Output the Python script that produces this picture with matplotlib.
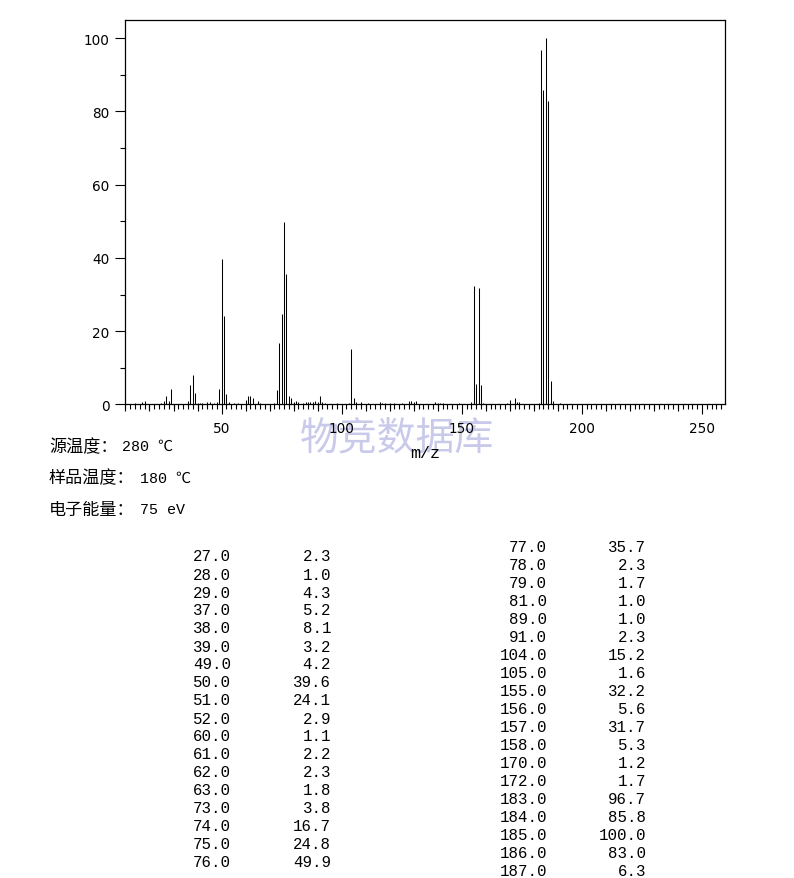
import matplotlib
matplotlib.use("Agg")
import matplotlib.pyplot as plt
from matplotlib.ticker import FixedLocator

# ---- data ----
mz_major = [27, 28, 29, 37, 38, 39, 49, 50, 51, 52, 60, 61, 62, 63, 73, 74, 75, 76,
            77, 78, 79, 81, 89, 91, 104, 105, 155, 156, 157, 158, 170, 172, 183, 184,
            185, 186, 187]
int_major = [2.3, 1.0, 4.3, 5.2, 8.1, 3.2, 4.2, 39.6, 24.1, 2.9, 1.1, 2.2, 2.3, 1.8,
             3.8, 16.7, 24.8, 49.9, 35.7, 2.3, 1.7, 1.0, 1.0, 2.3, 15.2, 1.6, 32.2,
             5.6, 31.7, 5.3, 1.2, 1.7, 96.7, 85.8, 100.0, 83.0, 6.3]
# small unlisted peaks (estimated from the plot)
mz_minor = [14, 17, 18, 25, 26, 36, 40, 41, 42, 44, 45, 47, 48, 53, 55, 57, 65, 66, 72,
            80, 82, 84, 85, 86, 87, 88, 90, 92, 93, 98, 103, 106, 108, 111, 116, 117,
            118, 120, 122, 125, 128, 129, 130, 131, 139, 140, 141, 142, 149, 154, 159,
            169, 173, 174, 182, 188, 191]
int_minor = [0.3, 0.5, 0.8, 0.4, 0.9, 0.9, 0.3, 0.4, 0.4, 0.5, 0.5, 0.3, 0.6, 0.5, 0.3,
             0.3, 0.8, 0.3, 0.3, 0.6, 0.5, 0.4, 0.7, 0.6, 0.5, 0.6, 0.5, 0.6, 0.4, 0.3,
             0.3, 0.6, 0.5, 0.3, 0.5, 0.4, 0.4, 0.4, 0.3, 0.4, 0.8, 0.9, 0.6, 0.9, 0.6,
             0.4, 0.4, 0.4, 0.3, 0.5, 0.4, 0.4, 0.6, 0.5, 0.4, 1.0, 0.3]
x_labels = [50, 100, 150, 200, 250]
y_labels = [0, 20, 40, 60, 80, 100]
info_names = ["源温度：", "样品温度：", "电子能量："]
info_values = ["280 ℃", "180 ℃", "75 eV"]
watermark = "物竞数据库"

W, H = 794, 879
fig = plt.figure(figsize=(W / 100, H / 100), dpi=100)
fig.patch.set_facecolor("white")


def fx(x):
    return x / W


def fy(y):
    return 1 - y / H


PT = 0.72  # points per pixel at 100 dpi

ax_l, ax_r, ax_t, ax_b = 124.5, 725, 21, 405.3
ax = fig.add_axes([fx(ax_l), fy(ax_b), (ax_r - ax_l) / W, (ax_b - ax_t) / H])
ax.set_facecolor("white")

ax.vlines(mz_minor, 0, int_minor, color="black", linewidth=0.75)
ax.vlines(mz_major, 0, int_major, color="black", linewidth=0.75)

ax.set_xlim(9.6, 259.6)
ax.set_ylim(0, 105)

for s in ax.spines.values():
    s.set_linewidth(0.9)

ax.xaxis.set_major_locator(FixedLocator(x_labels))
ax.xaxis.set_minor_locator(FixedLocator([v for v in range(10, 260, 2) if v % 50 != 0]))
ax.yaxis.set_major_locator(FixedLocator(y_labels))
ax.yaxis.set_minor_locator(FixedLocator([10, 30, 50, 70, 90]))
ax.tick_params(which="major", direction="out", length=10 * PT, width=0.8,
               labelsize=9.8)
ax.tick_params(which="minor", direction="out", length=5 * PT, width=0.8)
ax.tick_params(axis="x", which="major", pad=4.5)
ax.tick_params(axis="y", which="major", pad=3.5)

sec = ax.secondary_xaxis("bottom")
sec.xaxis.set_major_locator(FixedLocator([v for v in range(10, 260, 10) if v % 50 != 0]))
sec.tick_params(direction="out", length=7 * PT, width=0.8, labelbottom=False)
sec.spines["bottom"].set_visible(False)

ax.set_xlabel("m/z", family="Liberation Mono", fontsize=12)
ax.xaxis.set_label_coords(0.5, (ax_b - 446) / (ax_b - ax_t))

# info lines
cjk = ["Noto Sans CJK SC", "DejaVu Sans"]
for i, (name, val) in enumerate(zip(info_names, info_values)):
    y = 447 + i * 31.5
    fig.text(fx(49), fy(y), name, family=cjk, fontsize=12.3,
             ha="left", va="center")
    fig.text(fx(49 + len(name) * 18.2), fy(y), val,
             family=["Liberation Mono", "Noto Sans CJK SC"], fontsize=10.8,
             ha="left", va="center")

# watermark
fig.text(fx(397), fy(440), watermark, family=cjk, fontsize=28,
         color="#c9c9ea", ha="center", va="center", zorder=-1)

# peak table
left_rows = list(zip(mz_major[:18], int_major[:18]))
right_rows = list(zip(mz_major[18:], int_major[18:]))
mono = dict(family="Liberation Mono", fontsize=11.3, va="center", ha="right")
for i, (m, v) in enumerate(left_rows):
    y = 557 + i * 18
    fig.text(fx(231), fy(y), f"{m:.1f}", **mono)
    fig.text(fx(331), fy(y), f"{v:.1f}", **mono)
for i, (m, v) in enumerate(right_rows):
    y = 548 + i * 18
    fig.text(fx(547), fy(y), f"{m:.1f}", **mono)
    fig.text(fx(646), fy(y), f"{v:.1f}", **mono)

fig.savefig("out.png", dpi=100, facecolor="white")
